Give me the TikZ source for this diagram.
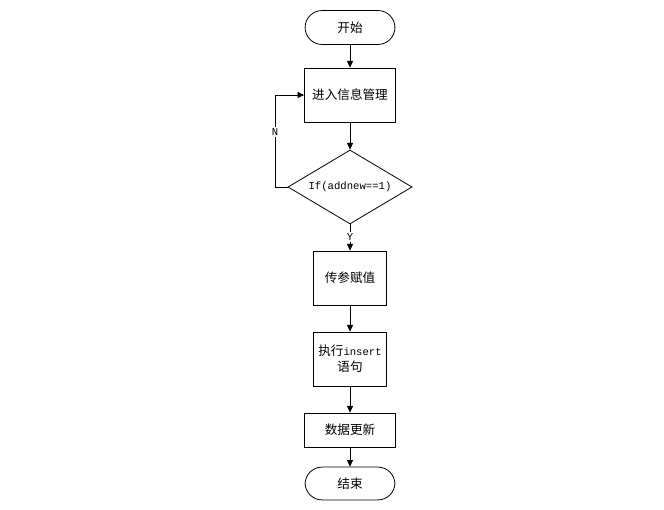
\documentclass[tikz,border=0pt]{standalone}
\usepackage{fontspec}
\setmainfont{Noto Sans CJK SC}
\setmonofont{Liberation Mono}
\usepackage{tikz}
\usetikzlibrary{shapes.geometric, arrows.meta, positioning}

\begin{document}
\begin{tikzpicture}[
  x=0.0265cm, y=-0.0265cm,
  every node/.style = {font=\fontsize{9.5}{12}\selectfont},
  term/.style  = {rectangle, rounded corners=0.45cm, draw, line width=0.6pt, minimum width=2.38cm, minimum height=0.9cm, align=center},
  proc/.style  = {rectangle, draw, line width=0.6pt, minimum width=#1, minimum height=1.43cm, align=center},
  proc/.default = 2.41cm,
  dec/.style   = {diamond, draw, line width=0.6pt, minimum width=3.29cm, minimum height=1.96cm, aspect=1.68, inner sep=0pt, align=center},
  lbl/.style   = {font=\ttfamily\fontsize{8}{10}\selectfont, fill=white, inner sep=1pt},
  arr/.style   = {-{Triangle[length=5pt,width=4.5pt]}, line width=0.6pt}
]
\useasboundingbox (0,0) rectangle (664,510);
\node[term]                          (start)  at (350,27.5) {开始};
\node[proc]                          (info)   at (350,95)   {进入信息管理};
\node[dec]                           (check)  at (350,187)  {\ttfamily\fontsize{8}{10}\selectfont If(addnew==1)};
\node[proc=1.93cm]                   (param)  at (350,278)  {传参赋值};
\node[proc=1.91cm]                   (insert) at (350,359)  {执行{\ttfamily\fontsize{8}{10}\selectfont insert}\\语句};
\node[proc, minimum height=0.9cm]    (update) at (350,430)  {数据更新};
\node[term, minimum height=0.87cm]   (stop)   at (350,483.5){结束};
\coordinate (back) at (275,187);
\draw[arr] (start)  -- (info);
\draw[arr] (info)   -- (check);
\draw[arr] (check)  -- node[lbl, pos=0.48]{Y} (param);
\draw[arr] (check.west) -- (back) |- node[lbl, pos=0.3]{N} (info.west);
\draw[arr] (param)  -- (insert);
\draw[arr] (insert) -- (update);
\draw[arr] (update) -- (stop);
\end{tikzpicture}
\end{document}
